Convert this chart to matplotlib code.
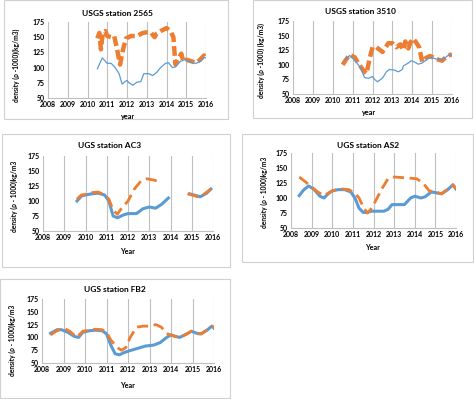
import numpy as np
import matplotlib
matplotlib.use("Agg")
import matplotlib.pyplot as plt
from matplotlib.patches import Rectangle

plt.rcParams['font.family'] = ['Lato', 'DejaVu Sans']

years = [2008, 2009, 2010, 2011, 2012, 2013, 2014, 2015, 2016]
yticks = [50, 75, 100, 125, 150, 175]
BLUE = '#5b9bd5'
ORANGE = '#ed7d31'

# ---- USGS station 2565 ----
s2565_blue_x = [2010.5, 2010.75, 2011.0, 2011.2, 2011.4, 2011.6, 2011.75, 2011.9, 2012.0, 2012.1,
                2012.3, 2012.5, 2012.7, 2012.85, 2013.1, 2013.3, 2013.5, 2013.7, 2013.95, 2014.1,
                2014.3, 2014.45, 2014.7, 2014.9, 2015.1, 2015.3, 2015.5, 2015.7, 2015.9, 2016.0]
s2565_blue_y = [98, 116, 107, 107, 100, 90, 73, 77, 79, 75,
                71, 76, 77, 90, 90, 87, 92, 100, 107, 108,
                100, 101, 110, 113, 111, 108, 107, 110, 117, 116]
s2565_orange_x = [2010.5, 2010.6, 2010.68, 2010.78, 2010.9, 2011.0, 2011.2, 2011.35, 2011.5, 2011.65,
                  2011.8, 2011.95, 2012.2, 2012.5, 2012.8, 2013.0, 2013.2, 2013.4, 2013.5, 2013.7,
                  2014.0, 2014.2, 2014.35, 2014.45, 2014.6, 2014.75, 2014.85, 2015.0, 2015.3, 2015.5,
                  2015.7, 2015.9, 2016.0]
s2565_orange_y = [148, 157, 130, 158, 160, 152, 150, 152, 130, 105,
                  130, 148, 152, 152, 157, 158, 158, 150, 156, 160,
                  165, 160, 150, 105, 115, 123, 110, 113, 110, 108,
                  113, 120, 115]

# ---- USGS station 3510 ----
s3510_blue_x = [2010.6, 2010.85, 2011.1, 2011.4, 2011.6, 2011.8, 2012.0, 2012.1, 2012.25, 2012.5,
                2012.7, 2012.85, 2013.1, 2013.3, 2013.5, 2013.55, 2013.8, 2013.95, 2014.1, 2014.3,
                2014.5, 2014.8, 2015.0, 2015.2, 2015.5, 2015.8, 2016.0]
s3510_blue_y = [108, 116, 108, 95, 78, 77, 80, 75, 71, 77,
                88, 92, 91, 88, 92, 98, 103, 107, 105, 101,
                103, 111, 112, 110, 108, 116, 117]
s3510_orange_x = [2010.5, 2010.65, 2010.85, 2011.1, 2011.3, 2011.55, 2011.7, 2011.85, 2012.0, 2012.2,
                  2012.5, 2012.8, 2013.0, 2013.2, 2013.4, 2013.55, 2013.65, 2013.8, 2013.9, 2014.05,
                  2014.2, 2014.35, 2014.5, 2014.7, 2014.9, 2015.2, 2015.5, 2015.75, 2016.0]
s3510_orange_y = [100, 108, 117, 113, 102, 90, 85, 110, 130, 130,
                  122, 137, 137, 130, 135, 125, 140, 128, 138, 145,
                  138, 130, 105, 112, 115, 110, 107, 115, 118]

# ---- UGS station AC3 ----
ac3_blue_x = [2009.6, 2009.8, 2010.0, 2010.3, 2010.6, 2010.9, 2011.1, 2011.3, 2011.5, 2011.8,
              2012.0, 2012.4, 2012.7, 2013.0, 2013.3, 2013.6, 2013.9, 2014.4,
              2014.9, 2015.1, 2015.4, 2015.7, 2015.9]
ac3_blue_y = [100, 108, 110, 112, 113, 110, 100, 75, 72, 77,
              79, 79, 87, 90, 88, 95, 105, np.nan,
              112, 110, 107, 113, 120]
ac3_orange_x = [2009.6, 2009.8, 2010.0, 2010.3, 2010.6, 2010.9, 2011.1, 2011.3, 2011.5, 2011.7,
                2012.0, 2012.3, 2012.6, 2012.9, 2013.2, 2013.5, 2014.2,
                2014.8, 2015.0, 2015.3, 2015.6, 2015.9]
ac3_orange_y = [103, 110, 111, 114, 115, 110, 103, 85, 78, 88,
                100, 120, 133, 137, 135, 132, np.nan,
                112, 110, 107, 112, 120]

# ---- UGS station AS2 ----
as2_blue_x = [2008.4, 2008.6, 2008.85, 2009.1, 2009.4, 2009.6, 2009.8, 2010.0, 2010.3, 2010.6,
              2010.9, 2011.1, 2011.3, 2011.5, 2011.7, 2011.9, 2012.2, 2012.5, 2012.7, 2012.9,
              2013.2, 2013.5, 2013.8, 2014.0, 2014.3, 2014.5, 2014.8, 2015.0, 2015.3, 2015.6,
              2015.85, 2016.0]
as2_blue_y = [104, 113, 120, 115, 103, 100, 107, 112, 114, 114,
              110, 100, 83, 76, 76, 78, 78, 78, 81, 89,
              89, 89, 100, 103, 100, 102, 110, 109, 107, 114,
              122, 115]
as2_orange_x = [2008.4, 2008.7, 2009.0, 2009.3, 2009.6, 2009.9, 2010.2, 2010.5, 2010.8, 2011.1,
                2011.3, 2011.5, 2011.7, 2011.85, 2012.1, 2012.4, 2012.7, 2013.0, 2013.4, 2013.8,
                2014.1, 2014.4, 2014.7, 2015.0, 2015.3, 2015.6, 2015.85, 2016.0]
as2_orange_y = [135, 127, 118, 110, 104, 110, 114, 115, 114, 108,
                100, 85, 75, 80, 95, 115, 132, 135, 134, 133,
                132, 125, 112, 110, 107, 115, 122, 115]

# ---- UGS station FB2 ----
fb2_blue_x = [2008.4, 2008.7, 2008.9, 2009.2, 2009.5, 2009.7, 2009.9, 2010.2, 2010.5, 2010.8,
              2011.0, 2011.2, 2011.4, 2011.6, 2011.8, 2012.0, 2012.4, 2012.8, 2013.2, 2013.5,
              2013.8, 2014.0, 2014.2, 2014.4, 2014.7, 2014.95, 2015.2, 2015.4, 2015.7, 2015.9,
              2016.0]
fb2_blue_y = [108, 115, 115, 110, 102, 100, 110, 113, 114, 113,
              107, 85, 68, 66, 70, 73, 78, 83, 85, 90,
              100, 105, 102, 100, 106, 112, 108, 107, 115, 122,
              118]
fb2_orange_x = [2008.4, 2008.7, 2009.0, 2009.3, 2009.6, 2009.9, 2010.2, 2010.5, 2010.8, 2011.0,
                2011.2, 2011.5, 2011.7, 2011.9, 2012.1, 2012.4, 2012.7, 2013.0, 2013.3, 2013.55,
                2013.8, 2014.0, 2014.2, 2014.4, 2014.7, 2014.95, 2015.2, 2015.4, 2015.7, 2015.9,
                2016.0]
fb2_orange_y = [105, 113, 118, 112, 100, 112, 114, 116, 115, 110,
                95, 80, 75, 80, 100, 120, 122, 122, 125, 120,
                108, 104, 102, 100, 106, 112, 107, 107, 115, 122,
                120]

W, H = 474, 399
fig = plt.figure(figsize=(W / 100, H / 100), dpi=100)
fig.patch.set_facecolor('white')

def px_rect(x0, y0, x1, y1):
    return [x0 / W, 1 - y1 / H, (x1 - x0) / W, (y1 - y0) / H]

def ftext(x, y, s, **kw):
    fig.text(x / W, 1 - y / H, s, ha='center', va='center', fontweight='bold', **kw)

boxes = [(4, 0, 228, 119), (253, 0, 472, 118), (2, 134, 230, 267),
         (242, 134, 473, 262), (0, 279, 230, 398)]
for (x0, y0, x1, y1) in boxes:
    fig.patches.append(Rectangle((x0 / W, 1 - y1 / H), (x1 - x0) / W, (y1 - y0) / H,
                                 transform=fig.transFigure, fill=False,
                                 edgecolor='#d0d0d0', linewidth=0.8))

panels = [
    dict(rect=(48, 22, 206, 98), title='USGS station 2565', tpos=(117, 14),
         ylabel='density (ρ -1000)(kg/m3)', ypos=(16, 65),
         xlabel='year', xpos=(128, 116),
         blue=(s2565_blue_x, s2565_blue_y), orange=(s2565_orange_x, s2565_orange_y),
         blw=0.9, olw=3.2, dash=(2.2, 0.9)),
    dict(rect=(293, 21, 452, 94), title='USGS station 3510', tpos=(360, 12),
         ylabel='density (ρ -1000) (kg/m3)', ypos=(261, 60),
         xlabel='year', xpos=(369, 113),
         blue=(s3510_blue_x, s3510_blue_y), orange=(s3510_orange_x, s3510_orange_y),
         blw=0.9, olw=3.2, dash=(2.2, 0.9)),
    dict(rect=(43, 156, 213, 231), title='UGS station AC3', tpos=(110, 146),
         ylabel='density (ρ - 1000)kg/m3', ypos=(14, 196),
         xlabel='Year', xpos=(127, 251),
         blue=(ac3_blue_x, ac3_blue_y), orange=(ac3_orange_x, ac3_orange_y),
         blw=2.2, olw=2.0, dash=(4, 2)),
    dict(rect=(291, 153, 456, 228), title='UGS station AS2', tpos=(368, 146),
         ylabel='density (ρ - 1000)kg/m3', ypos=(264, 192),
         xlabel='Year', xpos=(372, 248),
         blue=(as2_blue_x, as2_blue_y), orange=(as2_orange_x, as2_orange_y),
         blw=2.2, olw=2.0, dash=(4, 2)),
    dict(rect=(42, 299, 214, 363), title='UGS station FB2', tpos=(115, 290),
         ylabel='density (ρ - 1000)kg/m3', ypos=(12, 340),
         xlabel='Year', xpos=(127, 385),
         blue=(fb2_blue_x, fb2_blue_y), orange=(fb2_orange_x, fb2_orange_y),
         blw=2.2, olw=2.0, dash=(4, 2)),
]

for p in panels:
    ax = fig.add_axes(px_rect(*p['rect']))
    ax.set_xlim(years[0], years[-1])
    ax.set_ylim(yticks[0], yticks[-1])
    ax.set_xticks(years)
    ax.set_yticks(yticks)
    ax.set_xticklabels([str(y) for y in years], fontsize=5, fontweight='bold')
    ax.set_yticklabels([str(y) for y in yticks], fontsize=5, fontweight='bold')
    ax.tick_params(length=0, pad=2.5)
    for s in ['left', 'top', 'right']:
        ax.spines[s].set_visible(False)
    ax.spines['bottom'].set_color('#bfbfbf')
    ax.spines['bottom'].set_linewidth(0.8)
    ax.grid(axis='x', color='#bfbfbf', linewidth=0.8)
    ax.set_axisbelow(True)
    if p['blw'] < 1:
        ax.plot(*p['orange'], color=ORANGE, lw=p['olw'], dashes=p['dash'], solid_capstyle='butt')
        ax.plot(*p['blue'], color=BLUE, lw=p['blw'])
    else:
        ax.plot(*p['blue'], color=BLUE, lw=p['blw'])
        ax.plot(*p['orange'], color=ORANGE, lw=p['olw'], dashes=p['dash'])
    ftext(*p['tpos'], p['title'], fontsize=6)
    ftext(*p['ypos'], p['ylabel'], fontsize=4.8, rotation=90)
    ftext(*p['xpos'], p['xlabel'], fontsize=5.2)

fig.savefig('out.png', dpi=100, facecolor='white')
